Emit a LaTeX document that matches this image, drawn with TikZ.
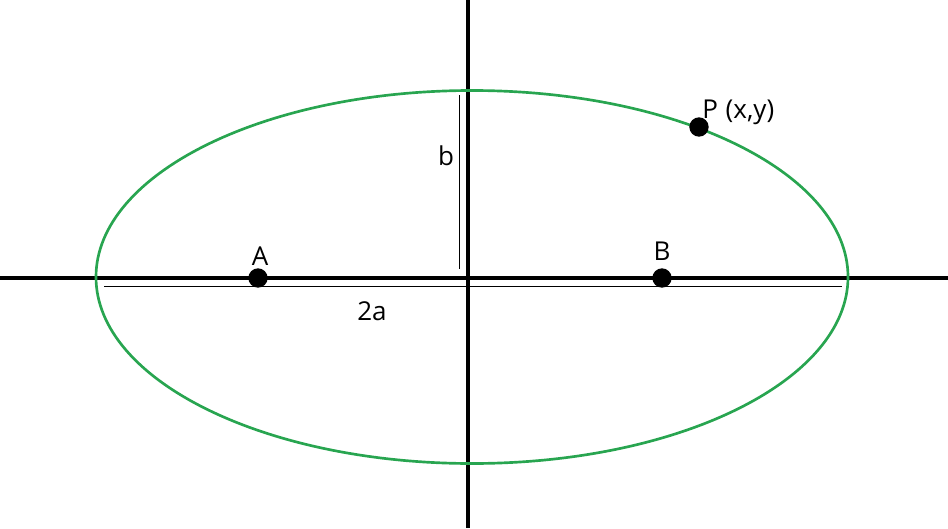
\documentclass[tikz,border=0pt]{standalone}
\usepackage{fontspec}
\setmainfont{Open Sans}
\usepackage{xcolor}
\usetikzlibrary{positioning}
\definecolor{ellgreen}{RGB}{40,165,80}
\tikzset{
  axis/.style={black,line width=2.3pt},
  measure/.style={black,line width=0.75pt},
  dot/.style={circle,fill=black,inner sep=0pt,minimum size=14.5pt},
  lbl/.style={font=\fontsize{19.5}{22}\selectfont,inner sep=0pt}
}
\begin{document}
\begin{tikzpicture}[x=0.75pt,y=-0.75pt]
\useasboundingbox (0,0) rectangle (948,528);
% axes
\coordinate (xl) at (0,278);
\coordinate (xr) at (948,278);
\coordinate (yt) at (468,0);
\coordinate (yb) at (468,528);
\draw[axis] (xl) -- (xr);
\draw[axis] (yt) -- (yb);
% ellipse
\draw[ellgreen,line width=2pt] (472,277) ellipse [x radius=376,y radius=186.5];
% half axes
\coordinate (bt) at (459,95);
\coordinate (bb) at (459,269);
\draw[measure] (bt) -- (bb);
\node[lbl] (b) at (446,156) {b};
\coordinate (al) at (104,286);
\coordinate (ar) at (842,286);
\draw[measure] (al) -- (ar);
\node[lbl] (twoa) at (372,311) {2a};
% foci and point
\node[dot] (A) at (258,278) {};
\node[lbl] at (260,256) {A};
\node[dot] (B) at (662,278) {};
\node[lbl] at (662,251) {B};
\node[dot] (P) at (699,127) {};
\node[lbl,anchor=west] at (702,112) {P\hspace{0.3em}(x,y)};
\end{tikzpicture}
\end{document}
